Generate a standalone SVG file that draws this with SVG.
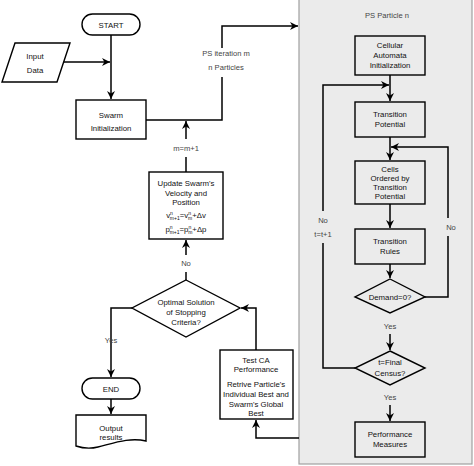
<svg xmlns="http://www.w3.org/2000/svg" width="474" height="466" viewBox="0 0 474 466">
<defs>
<style>
.bx{fill:#fff;stroke:#000;stroke-width:1.4}
.gb{fill:#ebebeb;stroke:#000;stroke-width:1.4}
.t{font-family:"Liberation Sans",Arial,sans-serif;font-size:7.8px;fill:#111;text-anchor:middle}
.l{font-family:"Liberation Sans",Arial,sans-serif;font-size:7.6px;fill:#444;text-anchor:middle}
.s{font-size:5px}
.c{fill:none;stroke:#000;stroke-width:1.5}
</style>
<marker id="a" viewBox="0 0 10 10" refX="10" refY="5" markerWidth="8" markerHeight="8" orient="auto" markerUnits="userSpaceOnUse">
<path d="M0,0 L10,5 L0,10 L3,5 Z" fill="#000"/>
</marker>
</defs>
<rect width="474" height="466" fill="#fff"/>
<g id="panel">
<rect x="299" y="-2" width="173" height="466" fill="#ebebeb" stroke="#a0a0a0" stroke-width="1.2"/>
<text class="l" x="387" y="18">PS Particle n</text>
</g>
<g id="connectors">
<path class="c" d="M63,62 H110" marker-end="url(#a)"/>
<path class="c" d="M111,35 V99" marker-end="url(#a)"/>
<path class="c" d="M146,120 H222 V77"/>
<path class="c" d="M222,48 V26 H298" marker-end="url(#a)"/>
<path class="c" d="M186,172 V157"/>
<path class="c" d="M186,139 V121" marker-end="url(#a)"/>
<path class="c" d="M186,272 V280"/>
<path class="c" d="M186,255 V240" marker-end="url(#a)"/>
<path class="c" d="M132,308 H111 V348"/>
<path class="c" d="M111,348 V377" marker-end="url(#a)"/>
<path class="c" d="M111,399 V414" marker-end="url(#a)"/>
<path class="c" d="M256,350 V308 H241" marker-end="url(#a)"/>
<path class="c" d="M299,438 H256 V420" marker-end="url(#a)"/>
<path class="c" d="M390,75 V101" marker-end="url(#a)"/>
<path class="c" d="M390,137 V160" marker-end="url(#a)"/>
<path class="c" d="M390,204 V228" marker-end="url(#a)"/>
<path class="c" d="M390,264 V278" marker-end="url(#a)"/>
<path class="c" d="M390,334 V350" marker-end="url(#a)"/>
<path class="c" d="M390,405 V421" marker-end="url(#a)"/>
<path class="c" d="M355,368 H323 V243"/>
<path class="c" d="M323,211 V85 H389" marker-end="url(#a)"/>
<path class="c" d="M425,297 H448 V236"/>
<path class="c" d="M448,218 V147 H391" marker-end="url(#a)"/>
<text class="l" x="226" y="56">PS iteration m</text>
<text class="l" x="226" y="70">n Particles</text>
<text class="l" x="186" y="151">m=m+1</text>
<text class="l" x="186" y="266">No</text>
<text class="l" x="111" y="343">Yes</text>
<text class="l" x="323" y="223">No</text>
<text class="l" x="323" y="237">t=t+1</text>
<text class="l" x="451" y="230">No</text>
<text class="l" x="390" y="329">Yes</text>
<text class="l" x="390" y="400">Yes</text>
</g>
<g id="start">
<rect class="bx" x="82" y="14" width="58" height="21" rx="10.5"/>
<text class="t" x="111" y="28">START</text>
</g>
<g id="input">
<path class="bx" d="M15,43 H70 L57,82 H2 Z"/>
<text class="t" x="35" y="59">Input</text>
<text class="t" x="35" y="73">Data</text>
</g>
<g id="swarm-init">
<rect class="bx" x="76" y="100" width="70" height="39"/>
<text class="t" x="111" y="118">Swarm</text>
<text class="t" x="111" y="131">Initialization</text>
</g>
<g id="update">
<rect class="bx" x="149" y="172" width="74" height="67"/>
<text class="t" x="186" y="186">Update Swarm's</text>
<text class="t" x="186" y="195.5">Velocity and</text>
<text class="t" x="186" y="205">Position</text>
<text class="t" x="186" y="218">v<tspan class="s" dy="-3">n</tspan><tspan class="s" dx="-3" dy="5">m+1</tspan><tspan dy="-2">=v</tspan><tspan class="s" dy="-3">n</tspan><tspan class="s" dx="-3" dy="5">m</tspan><tspan dy="-2">+Δv</tspan></text>
<text class="t" x="186" y="232">p<tspan class="s" dy="-3">n</tspan><tspan class="s" dx="-3" dy="5">m+1</tspan><tspan dy="-2">=p</tspan><tspan class="s" dy="-3">n</tspan><tspan class="s" dx="-3" dy="5">m</tspan><tspan dy="-2">+Δp</tspan></text>
</g>
<g id="optimal">
<path class="bx" d="M186,280 L240,308 L186,337 L132,308 Z"/>
<text class="t" x="186" y="305">Optimal Solution</text>
<text class="t" x="186" y="315">of Stopping</text>
<text class="t" x="186" y="325">Criteria?</text>
</g>
<g id="end">
<rect class="bx" x="82" y="378" width="58" height="21" rx="10.5"/>
<text class="t" x="111" y="392">END</text>
</g>
<g id="output">
<path class="bx" d="M76,415 H146 V441 C130,437 114,443 98,447 C90,449 82,448 76,446 Z"/>
<text class="t" x="111" y="431">Output</text>
<text class="t" x="111" y="440">results</text>
</g>
<g id="testca">
<rect class="bx" x="220" y="350" width="73" height="69"/>
<text class="t" x="256" y="363">Test CA</text>
<text class="t" x="256" y="372">Performance</text>
<text class="t" x="256" y="387">Retrive Particle's</text>
<text class="t" x="256" y="397">Individual Best and</text>
<text class="t" x="256" y="407">Swarm's Global</text>
<text class="t" x="256" y="416">Best</text>
</g>
<g id="ca-init">
<rect class="gb" x="355" y="36" width="70" height="39"/>
<text class="t" x="390" y="48">Cellular</text>
<text class="t" x="390" y="58">Automata</text>
<text class="t" x="390" y="68">Initialization</text>
</g>
<g id="trans-pot">
<rect class="gb" x="355" y="102" width="70" height="35"/>
<text class="t" x="390" y="117">Transition</text>
<text class="t" x="390" y="127">Potential</text>
</g>
<g id="cells">
<rect class="gb" x="355" y="161" width="70" height="43"/>
<text class="t" x="390" y="172">Cells</text>
<text class="t" x="390" y="181">Ordered by</text>
<text class="t" x="390" y="190">Transition</text>
<text class="t" x="390" y="199">Potential</text>
</g>
<g id="trans-rules">
<rect class="gb" x="355" y="229" width="70" height="35"/>
<text class="t" x="390" y="244">Transition</text>
<text class="t" x="390" y="254">Rules</text>
</g>
<g id="demand">
<path class="gb" d="M390,279 L425,297 L390,313 L355,297 Z"/>
<text class="t" x="390" y="300">Demand=0?</text>
</g>
<g id="final">
<path class="gb" d="M390,351 L425,368 L390,385 L355,368 Z"/>
<text class="t" x="390" y="365">t=Final</text>
<text class="t" x="390" y="376">Census?</text>
</g>
<g id="perf">
<rect class="gb" x="355" y="422" width="70" height="35"/>
<text class="t" x="390" y="437">Performance</text>
<text class="t" x="390" y="447">Measures</text>
</g>
</svg>
